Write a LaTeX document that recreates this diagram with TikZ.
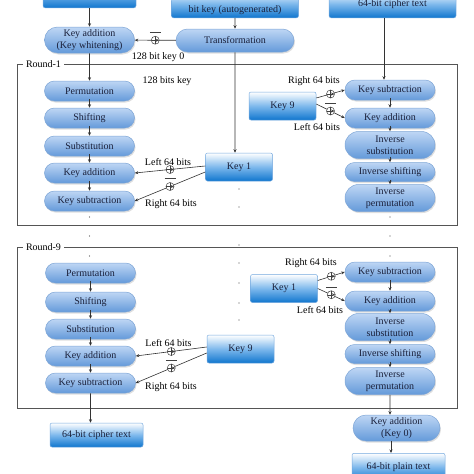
\documentclass[tikz,border=0pt]{standalone}
\usepackage{fontspec}
\setmainfont{Liberation Serif}
\usetikzlibrary{arrows.meta,shapes.misc,shadows}

\definecolor{pillTop}{RGB}{190,214,244}
\definecolor{pillBot}{RGB}{100,154,218}
\definecolor{pillLine}{RGB}{125,165,214}
\definecolor{boxMid}{RGB}{125,184,236}
\definecolor{boxBot}{RGB}{16,118,206}
\definecolor{boxLine}{RGB}{115,168,222}
\definecolor{ink}{RGB}{26,32,58}
\definecolor{frameGray}{RGB}{85,85,85}

\newcommand{\figfont}{\fontsize{10}{12}\selectfont}

\tikzset{
  pill/.style={rounded rectangle, draw=pillLine, line width=0.5pt,
    top color=pillTop, bottom color=pillBot, text=ink, font=\figfont,
    align=center, inner sep=1pt, minimum width=92pt, minimum height=20pt,
    drop shadow={opacity=0.25,shadow xshift=1pt,shadow yshift=-1.5pt}},
  keybox/.style={rectangle, rounded corners=2pt, draw=boxLine, line width=0.5pt,
    top color=white, bottom color=boxBot, middle color=boxMid, text=ink,
    font=\figfont, align=center, inner sep=2pt, minimum width=67pt, minimum height=28pt},
  flow/.style={draw=black!80, line width=0.6pt, -{Stealth[length=3.5pt,width=3pt]}},
  frame/.style={draw=frameGray, line width=0.7pt},
  roundlbl/.style={fill=white, inner xsep=3pt, inner ysep=1pt, font=\figfont},
  note/.style={font=\figfont, inner sep=0pt},
  xor/.style={circle, draw=black!75, fill=white, line width=0.5pt, inner sep=0pt,
    minimum size=8pt, path picture={\draw[black!75, line width=0.5pt]
      (path picture bounding box.north) -- (path picture bounding box.south)
      (path picture bounding box.west) -- (path picture bounding box.east);}},
  negxor/.style={xor, label={[inner sep=3pt, text=black!75]above:\rule{11pt}{0.5pt}}},
}

\begin{document}
\begin{tikzpicture}[x=1pt,y=-1pt]
\useasboundingbox (0,0) rectangle (474,474);
\clip (0,0) rectangle (474,474);

% input boxes on top (cut by the page edge)
\node[keybox, anchor=south, minimum width=93pt, minimum height=30pt] (plainin) at (89.5,8) {};
\node[keybox, anchor=south, minimum width=127pt] (keygen) at (235,18) {\strut\\bit key (autogenerated)};
\node[keybox, anchor=south, minimum width=127pt, minimum height=27pt] (cipherin) at (392.5,18) {64-bit cipher text};

\node[pill, minimum height=26pt] (kwhite) at (89.5,40) {Key addition\\(Key whitening)};
\node[pill, minimum width=120pt, minimum height=23pt] (transf) at (235,40.5) {Transformation};
\node[note] at (158,57) {128 bit key 0};
\node[note] at (167,81) {128 bits key};

\draw[flow] (plainin) -- (kwhite);
\draw[flow] (keygen) -- (transf);
\draw[flow] (transf) -- (kwhite) node[negxor, pos=.5] {};

% Round-1
\draw[frame] (17,64) rectangle (457,225);
\node[roundlbl] at (43.5,64) {Round-1};

\node[pill] (perm1) at (89.5,91) {Permutation};
\node[pill] (shift1) at (89.5,118) {Shifting};
\node[pill] (subst1) at (89.5,146) {Substitution};
\node[pill] (kadd1) at (89.5,173) {Key addition};
\node[pill] (ksub1) at (89.5,201) {Key subtraction};

\node[pill] (dksub1) at (390,90) {Key subtraction};
\node[pill] (dkadd1) at (390,118) {Key addition};
\node[pill, minimum height=27pt] (dsubst1) at (390,145) {Inverse\\substitution};
\node[pill, minimum height=19pt] (dshift1) at (390,172) {Inverse shifting};
\node[pill, minimum height=27pt] (dperm1) at (390,198) {Inverse\\permutation};

\node[keybox] (ekey1) at (239,167) {Key 1};
\node[keybox] (dkey9) at (282.5,106) {Key 9};

\draw[flow] (kwhite) -- (perm1);
\draw[flow] (transf) -- (transf |- ekey1.north);
\draw[flow] ([xshift=-8.5pt]cipherin.south) -- ([xshift=-8.5pt]cipherin.south |- dksub1.north);

\draw[flow] ([yshift=1pt]ekey1.west) -- (kadd1.east) node[xor, pos=.5] {};
\draw[flow] ([yshift=-5pt]ekey1.west) -- (ksub1.east) node[negxor, pos=.5] {};
\node[note] at (168,162) {Left 64 bits};
\node[note] at (171,204) {Right 64 bits};

\draw[flow] ([yshift=8pt]dkey9.east) -- (dksub1.west) node[xor, pos=.5] {};
\draw[flow] ([yshift=2pt]dkey9.east) -- (dkadd1.west) node[negxor, pos=.5] {};
\node[note] at (314,81) {Right 64 bits};
\node[note] at (317,127) {Left 64 bits};

% Round-9
\draw[frame] (17,247) rectangle (457,408);
\node[roundlbl] at (43.5,247) {Round-9};

\node[pill] (perm9) at (90.5,273) {Permutation};
\node[pill] (shift9) at (90.5,302) {Shifting};
\node[pill] (subst9) at (90.5,329) {Substitution};
\node[pill] (kadd9) at (90.5,356) {Key addition};
\node[pill] (ksub9) at (90.5,383) {Key subtraction};

\node[pill] (dksub9) at (390,272) {Key subtraction};
\node[pill] (dkadd9) at (390,301) {Key addition};
\node[pill, minimum height=27pt] (dsubst9) at (390,327) {Inverse\\substitution};
\node[pill, minimum height=19pt] (dshift9) at (390,354) {Inverse shifting};
\node[pill, minimum height=27pt] (dperm9) at (390,381) {Inverse\\permutation};

\node[keybox] (ekey9) at (240.5,349) {Key 9};
\node[keybox] (dkey1) at (284,288.5) {Key 1};

\draw[flow] ([yshift=2pt]ekey9.west) -- (kadd9.east) node[xor, pos=.5] {};
\draw[flow] ([yshift=-4pt]ekey9.west) -- (ksub9.east) node[negxor, pos=.5] {};
\node[note] at (168.5,343) {Left 64 bits};
\node[note] at (171,387) {Right 64 bits};

\draw[flow] ([yshift=8pt]dkey1.east) -- (dksub9.west) node[xor, pos=.5] {};
\draw[flow] (dkey1.east) -- (dkadd9.west) node[negxor, pos=.5] {};
\node[note] at (311,263) {Right 64 bits};
\node[note] at (320,310) {Left 64 bits};

% steps inside the rounds
\foreach \a/\b in {perm1/shift1, shift1/subst1, subst1/kadd1, kadd1/ksub1,
                   perm9/shift9, shift9/subst9, subst9/kadd9, kadd9/ksub9,
                   dksub1/dkadd1, dkadd1/dsubst1, dsubst1/dshift1, dshift1/dperm1,
                   dksub9/dkadd9, dkadd9/dsubst9, dsubst9/dshift9, dshift9/dperm9}
  \draw[flow] ([yshift=2pt]\a.south) -- (\b.north);

% rounds left out
\foreach \y in {217,236,256}
  \fill[black!70] (89.5,\y) circle (0.6pt) (390,\y) circle (0.6pt);
\foreach \y in {189,207,245,263,283,303,320}
  \fill[black!70] (239,\y) circle (0.6pt);

% outputs
\node[keybox, minimum width=93pt, minimum height=24pt] (cipherout) at (96.5,435) {64-bit cipher text};
\node[pill, minimum width=89pt, minimum height=26pt] (key0) at (396.5,428) {Key addition\\(Key 0)};
\node[keybox, anchor=north, minimum width=93pt] (plainout) at (398.5,453) {64-bit plain text};

\draw[flow] (ksub9) -- (ksub9 |- cipherout.north);
\draw[flow] (dperm9) -- (dperm9 |- key0.north);
\draw[flow] ([xshift=-5.5pt]key0.south) -- ([xshift=-5.5pt]key0.south |- plainout.north);
\end{tikzpicture}
\end{document}
